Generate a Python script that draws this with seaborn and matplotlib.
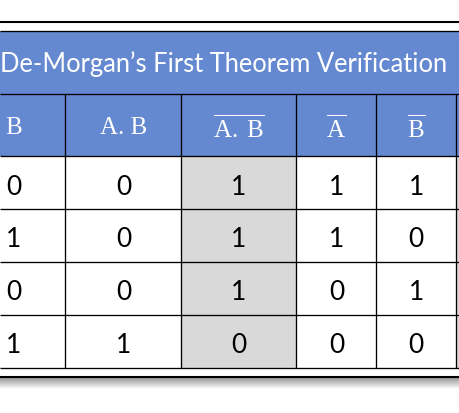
import numpy as np
import pandas as pd
import matplotlib
matplotlib.use("Agg")
import matplotlib.pyplot as plt
from matplotlib.colors import ListedColormap, LinearSegmentedColormap
import seaborn as sns

# ── DATA ─────────────────────────────────────────────────────
title = "De-Morgan\u2019s First Theorem Verification"
headers = ["B", "A. B", r"$\overline{\mathrm{A.\,B}}$", r"$\overline{\mathrm{A}}$", r"$\overline{\mathrm{B}}$", ""]
col_b = [0, 1, 0, 1]
col_ab = [0, 0, 0, 1]
col_nand = [1, 1, 1, 0]
col_a_bar = [1, 1, 0, 0]
col_b_bar = [1, 0, 1, 0]
columns = [col_b, col_ab, col_nand, col_a_bar, col_b_bar, None]

# column edges in pixels, first and last run off the picture
x_edges = [-38, 65.5, 181.5, 296.5, 376.5, 456, 560]
y_edges = [30.5, 93.5, 156, 209, 262, 315, 367.5]
shaded = [False, False, True, False, False, True]

BLUE = "#6589D1"
GREY = "#D9D9D9"
W, H = 460, 413

plt.rcParams["mathtext.fontset"] = "custom"
plt.rcParams["mathtext.rm"] = "Liberation Serif"
sns.set_style("white")
plt.rcParams["font.family"] = ["Lato", "DejaVu Sans"]

fig = plt.figure(figsize=(W / 100, H / 100), dpi=100)


def block(x0, x1, y0, y1):
    ax = fig.add_axes([x0 / W, 1 - y1 / H, (x1 - x0) / W, (y1 - y0) / H])
    return ax


def cells(ax, values, labels, fill, nudge=0.0, **kws):
    df = pd.DataFrame(values)
    sns.heatmap(df, ax=ax, cbar=False, annot=pd.DataFrame(labels), fmt="",
                cmap=ListedColormap([fill]), xticklabels=False, yticklabels=False,
                annot_kws=kws)
    # move the labels down a touch, the font sits higher than the original
    for t in ax.texts:
        t.set_y(t.get_position()[1] + nudge)


# title band
ax = block(-38, 560, y_edges[0], y_edges[1])
cells(ax, [[1]], [[""]], BLUE)
ax.text((223.5 + 38) / 598, 0.5, title, transform=ax.transAxes, color="white",
        fontsize=18.4, ha="center", va="center_baseline")

# header row and value columns
for i, head in enumerate(headers):
    x0, x1 = x_edges[i], x_edges[i + 1]
    ax = block(x0, x1, y_edges[1], y_edges[2])
    cells(ax, [[1]], [[head]], BLUE, nudge=0.02, color="white", fontsize=18,
          family="Liberation Serif", va="center_baseline")
    vals = columns[i]
    labels = [[""] if vals is None else [str(v)] for v in (vals or [0, 0, 0, 0])]
    ax = block(x0, x1, y_edges[2], y_edges[6])
    cells(ax, [[1]] * 4, labels, GREY if shaded[i] else "white", nudge=0.04,
          color="black", fontsize=19, va="center_baseline")

# overlay for the rules and the drop shadow
over = fig.add_axes([0, 0, 1, 1], zorder=5)
over.set_xlim(0, W)
over.set_ylim(H, 0)
over.axis("off")
over.patch.set_alpha(0)
for y in y_edges:
    over.hlines(y, 0, W, color="black", lw=0.95)
for x in x_edges[1:-1]:
    over.vlines(x, y_edges[1], y_edges[6], color="black", lw=0.95)
over.hlines(22, 0, W, color="black", lw=1.5)
over.hlines(377, 0, W, color="black", lw=1.5)

shadow = LinearSegmentedColormap.from_list("shadow", ["#9a9a9a", "#ffffff"])
over.imshow(np.linspace(0, 1, 32).reshape(-1, 1), cmap=shadow, aspect="auto",
            extent=(0, W, 389, 378), zorder=1)
over.set_xlim(0, W)
over.set_ylim(H, 0)

fig.savefig("out.png", dpi=100)
